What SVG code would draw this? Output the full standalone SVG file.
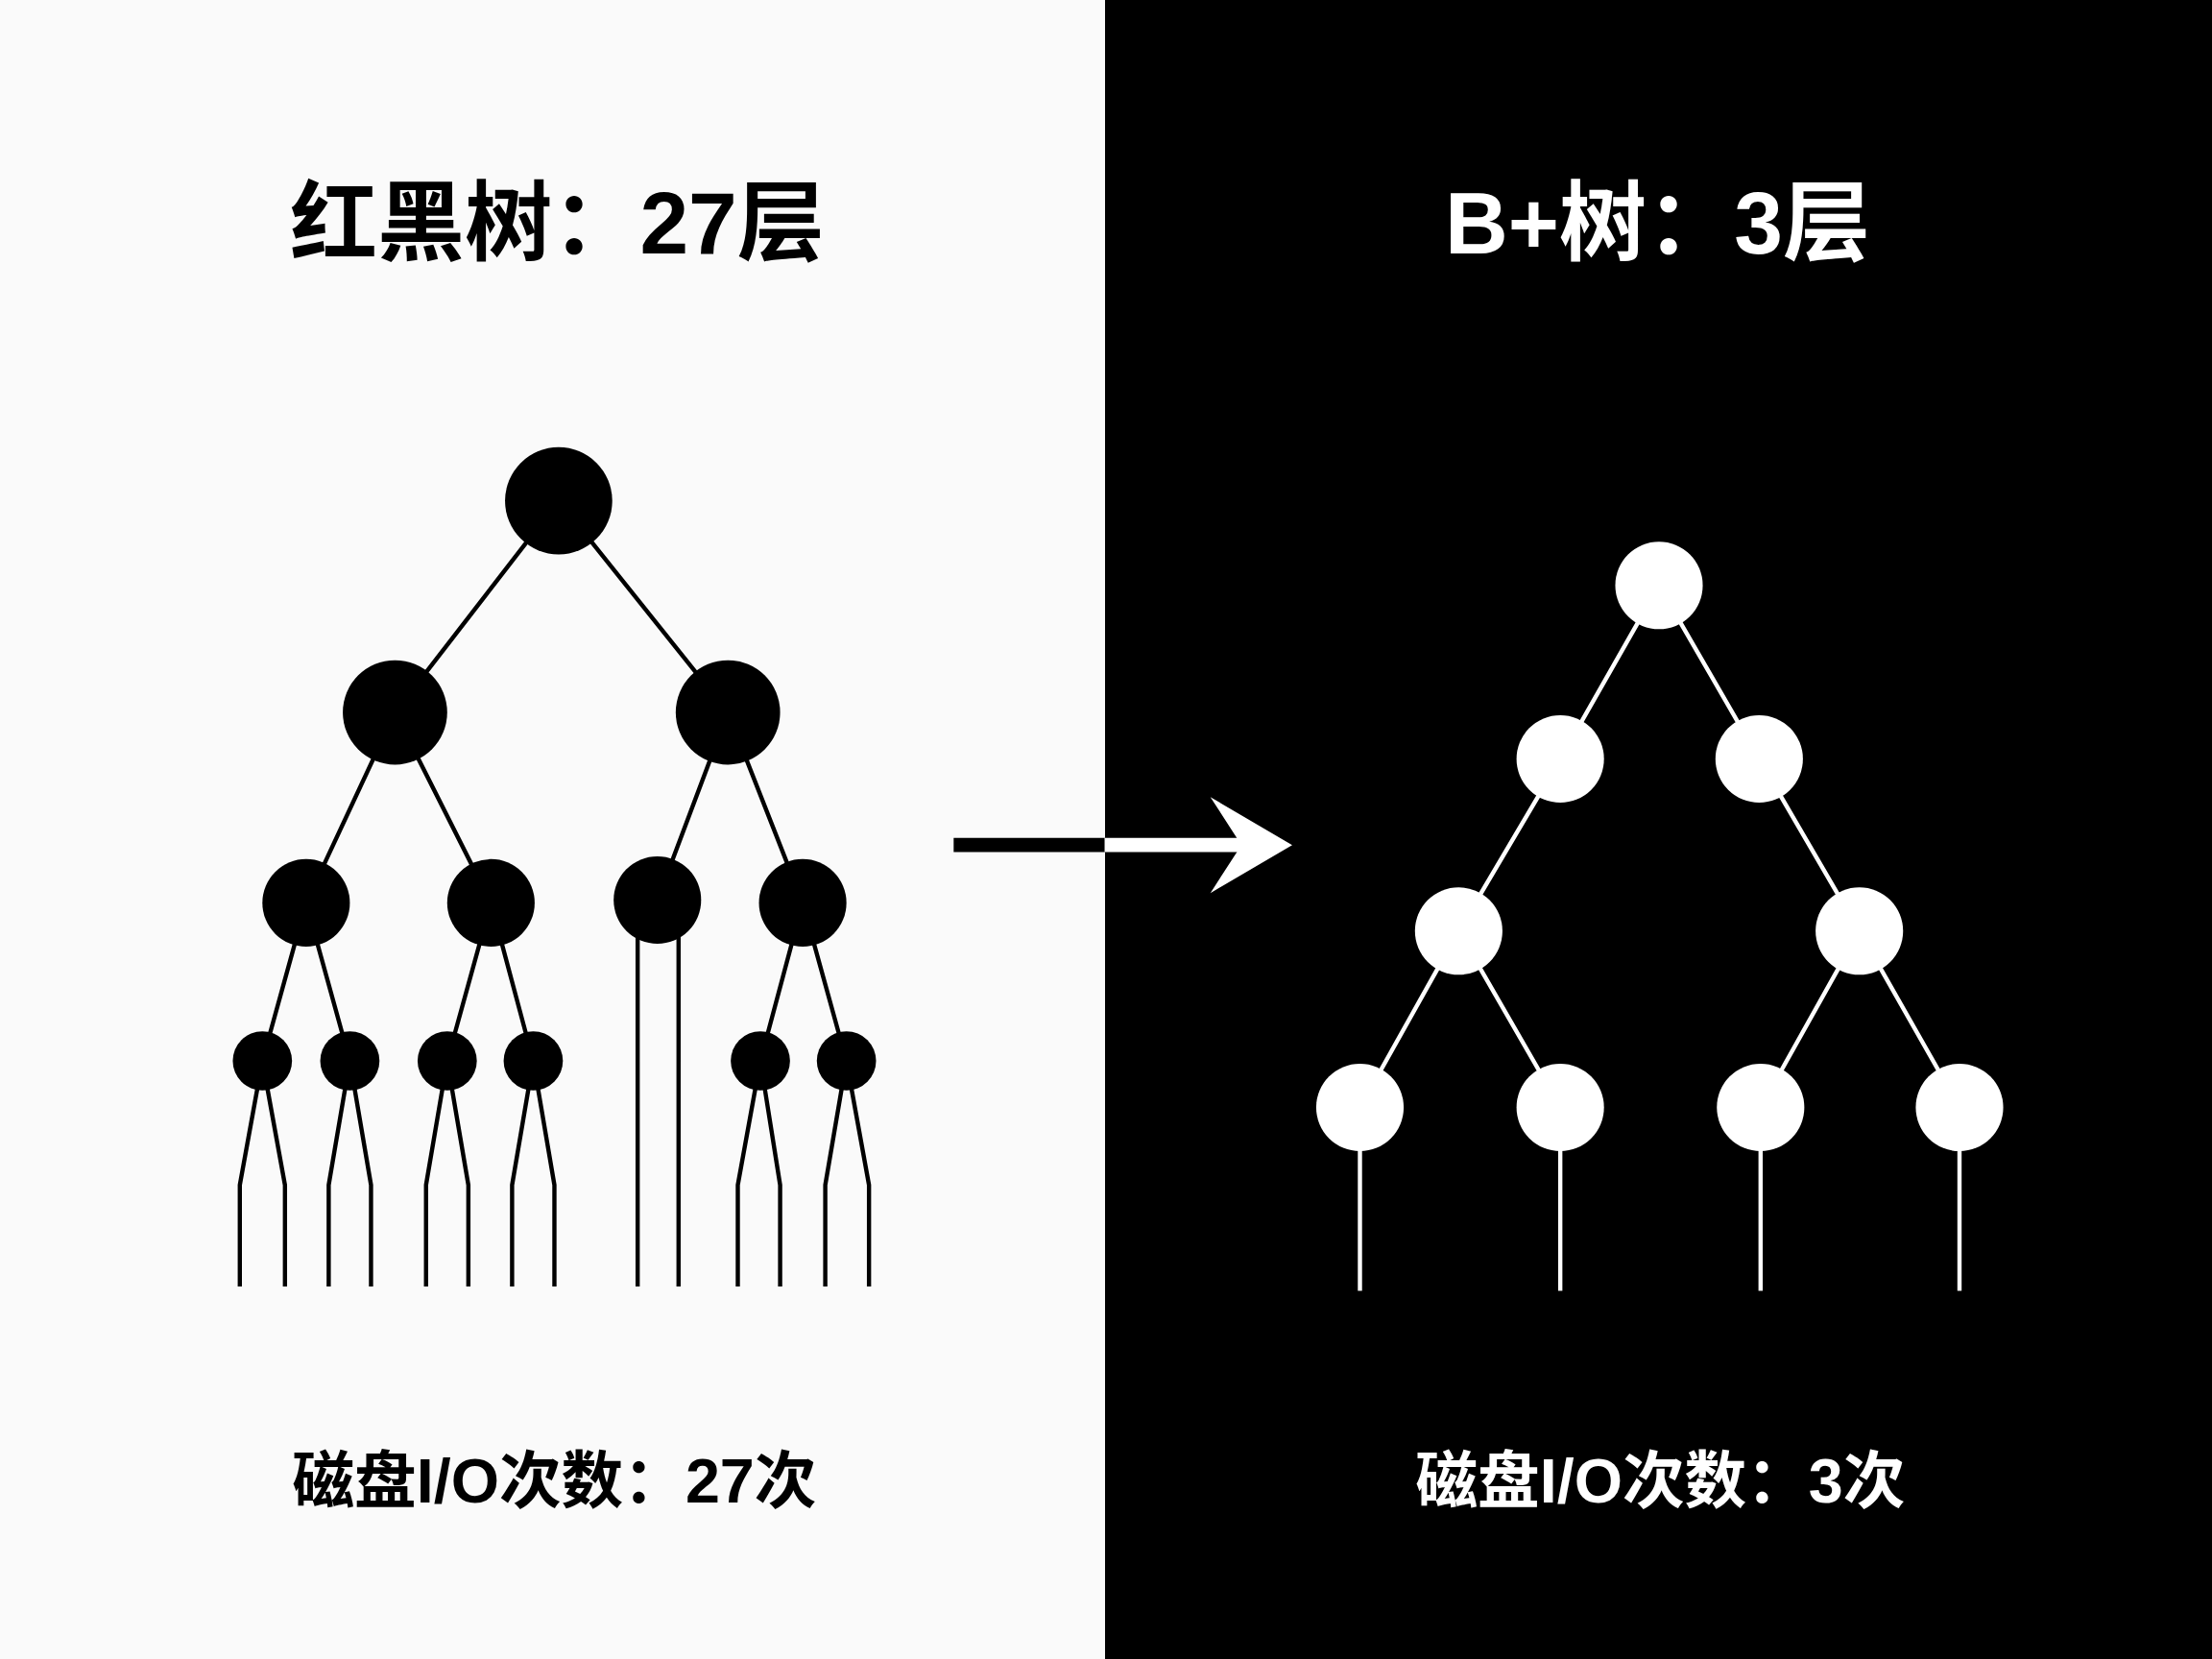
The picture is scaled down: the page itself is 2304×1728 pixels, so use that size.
<svg xmlns="http://www.w3.org/2000/svg" width="2304" height="1728" viewBox="0 0 2304 1728">
<style>
.t{font-family:"Liberation Sans","Noto Sans CJK SC",sans-serif;font-weight:bold;text-anchor:middle}
.bl{stroke:#000;stroke-width:3;fill:none}
.wl{stroke:#fff;stroke-width:3;fill:none}
.bn{fill:#000}
.wn{fill:#fff}
</style>
<rect x="0" y="0" width="1151" height="1728" fill="#fafafa"/>
<rect x="1151" y="0" width="1153" height="1728" fill="#000"/>
<g transform="scale(1.4694)">
<g id="titles">
<text class="t" x="395" y="180" font-size="62" fill="#000">红黑树：27层</text>
<text class="t" x="1175" y="180" font-size="62" fill="#fff">B+树：3层</text>
<text class="t" x="393" y="1065" font-size="44" fill="#000">磁盘I/O次数：27次</text>
<text class="t" x="1177" y="1065" font-size="44" fill="#fff">磁盘I/O次数：3次</text>
</g>
<g id="connectors">
<path class="bl" d="M396,355L280,505M396,355L516,505M280,505L217,640M280,505L348,640M516,505L466,638M516,505L569,640M217,640L186,752M217,640L248,752M348,640L317,752M348,640L378,752M569,640L539,752M569,640L600,752M452,650V912M481,650V912"/>
<path class="bl" d="M186,752L170,840V912M186,752L202,840V912M248,752L233,840V912M248,752L263,840V912M317,752L302,840V912M317,752L332,840V912M378,752L363,840V912M378,752L393,840V912M539,752L523,840V912M539,752L553,840V912M600,752L585,840V912M600,752L616,840V912"/>
<path class="wl" d="M1176,415L1106,538M1176,415L1247,538M1106,538L1034,660M1247,538L1318,660M1034,660L964,785M1034,660L1106,785M1318,660L1248,785M1318,660L1389,785M964,785V915M1106,785V915M1248,785V915M1389,785V915"/>
<line x1="676" y1="599" x2="784" y2="599" stroke="#000" stroke-width="10"/>
<line x1="783" y1="599" x2="905" y2="599" stroke="#fff" stroke-width="10"/>
<path d="M858,565L916,599L858,633L880,599Z" fill="#fff"/>
</g>
<g id="rb-nodes" class="bn">
<circle cx="396" cy="355" r="38"/>
<circle cx="280" cy="505" r="37"/><circle cx="516" cy="505" r="37"/>
<circle cx="217" cy="640" r="31"/><circle cx="348" cy="640" r="31"/><circle cx="466" cy="638" r="31"/><circle cx="569" cy="640" r="31"/>
<circle cx="186" cy="752" r="21"/><circle cx="248" cy="752" r="21"/><circle cx="317" cy="752" r="21"/><circle cx="378" cy="752" r="21"/><circle cx="539" cy="752" r="21"/><circle cx="600" cy="752" r="21"/>
</g>
<g id="bp-nodes" class="wn">
<circle cx="1176" cy="415" r="31"/>
<circle cx="1106" cy="538" r="31"/><circle cx="1247" cy="538" r="31"/>
<circle cx="1034" cy="660" r="31"/><circle cx="1318" cy="660" r="31"/>
<circle cx="964" cy="785" r="31"/><circle cx="1106" cy="785" r="31"/><circle cx="1248" cy="785" r="31"/><circle cx="1389" cy="785" r="31"/>
</g>
</g>
</svg>
